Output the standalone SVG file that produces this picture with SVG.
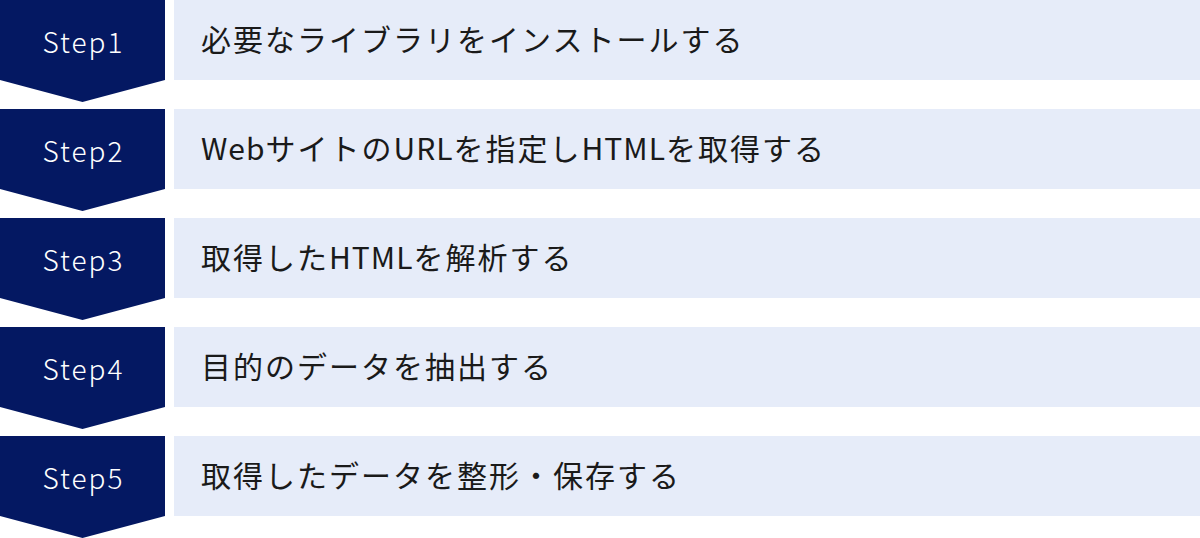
<svg xmlns="http://www.w3.org/2000/svg" width="1200" height="538" viewBox="0 0 1200 538">
<defs>
<style>
.badge{fill:#041862}
.bar{fill:#E6ECF9}
.step{font-family:"Noto Sans CJK JP","Noto Sans",sans-serif;font-size:28px;font-weight:300;fill:#fff;text-anchor:middle;letter-spacing:2px}
.lbl{font-family:"Noto Sans CJK JP","Noto Sans",sans-serif;font-size:30px;fill:#1a1a1a;letter-spacing:2px}
.lt{letter-spacing:1px}
</style>
<path id="chev" d="M0 0H165V80L82.5 102L0 80Z"/>
</defs>
<rect width="1200" height="538" fill="#fff"/>
<g id="connectors"></g>
<g id="step1">
<use href="#chev" class="badge"/>
<rect class="bar" x="174" y="0" width="1026" height="80"/>
<text class="step" x="83.5" y="53">Step1</text>
<text class="lbl" x="201" y="51">必要なライブラリをインストールする</text>
</g>
<g id="step2" transform="translate(0,109)">
<use href="#chev" class="badge"/>
<rect class="bar" x="174" y="0" width="1026" height="80"/>
<text class="step" x="83.5" y="53">Step2</text>
<text class="lbl" x="201" y="51"><tspan class="lt">Web</tspan>サイトの<tspan class="lt">URL</tspan>を指定し<tspan class="lt">HTML</tspan>を取得する</text>
</g>
<g id="step3" transform="translate(0,218)">
<use href="#chev" class="badge"/>
<rect class="bar" x="174" y="0" width="1026" height="80"/>
<text class="step" x="83.5" y="53">Step3</text>
<text class="lbl" x="201" y="51">取得した<tspan class="lt">HTML</tspan>を解析する</text>
</g>
<g id="step4" transform="translate(0,327)">
<use href="#chev" class="badge"/>
<rect class="bar" x="174" y="0" width="1026" height="80"/>
<text class="step" x="83.5" y="53">Step4</text>
<text class="lbl" x="201" y="51">目的のデータを抽出する</text>
</g>
<g id="step5" transform="translate(0,436)">
<use href="#chev" class="badge"/>
<rect class="bar" x="174" y="0" width="1026" height="80"/>
<text class="step" x="83.5" y="53">Step5</text>
<text class="lbl" x="201" y="51">取得したデータを整形・保存する</text>
</g>
</svg>
